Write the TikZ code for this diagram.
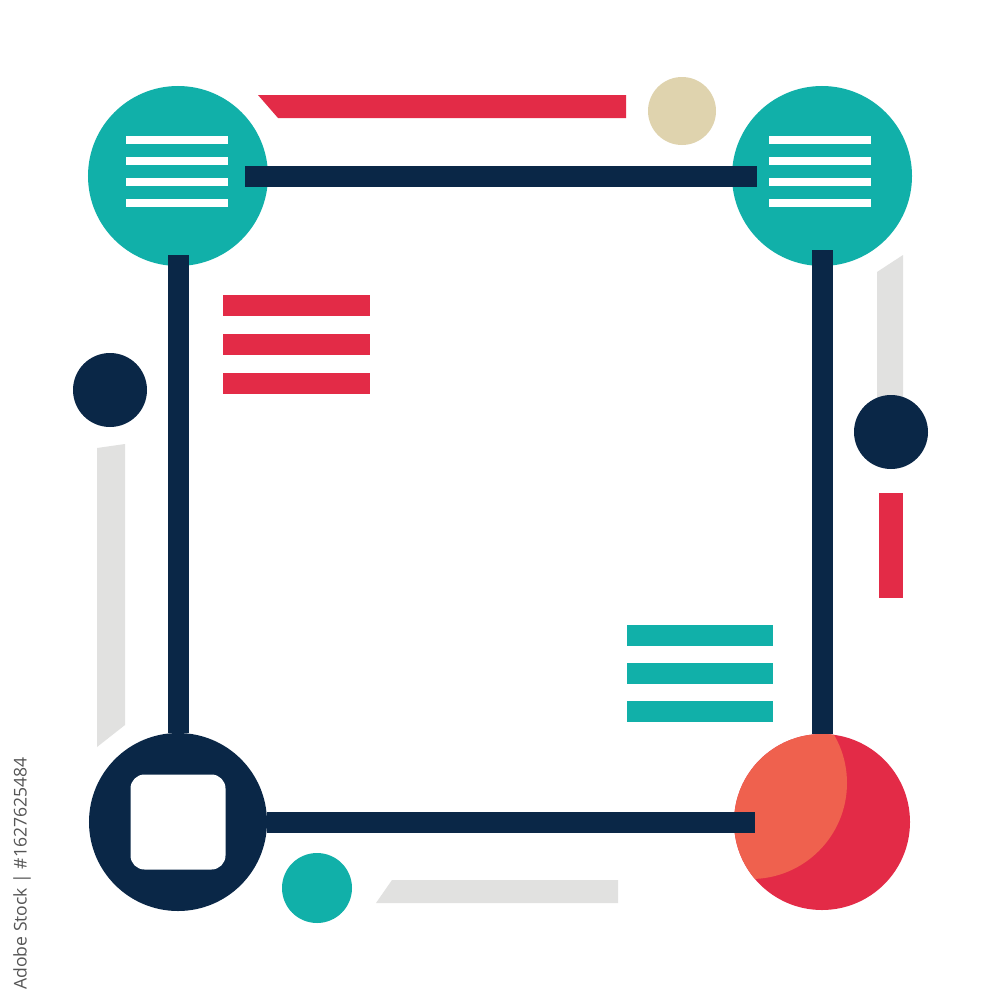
\documentclass[tikz,border=0pt]{standalone}
\usepackage{fontspec}
\newfontfamily\idfont{Open Sans}
\definecolor{cteal}{HTML}{11B0A9}
\definecolor{cnavy}{HTML}{0A2747}
\definecolor{cred}{HTML}{E32B47}
\definecolor{corange}{HTML}{EF614E}
\definecolor{cbeige}{HTML}{DFD3AE}
\definecolor{cgray}{HTML}{E1E1E0}
\definecolor{ctext}{HTML}{555555}

\begin{document}
\begin{tikzpicture}[x=0.2mm, y=-0.2mm]
\tikzstyle{hub}=[circle, minimum size=36mm, inner sep=0pt, fill=cteal]
\tikzstyle{dot}=[circle, minimum size=14.8mm, inner sep=0pt, fill=cnavy]
\tikzstyle{bar}=[cnavy, line width=4.2mm]
\tikzstyle{stripe}=[white, line width=1.6mm]
\useasboundingbox[fill=white] (0,0) rectangle (1000,1000);

% loose bits behind the frame
\fill[cred] (258,95) -- (626,95) -- (626,118) -- (278,118) -- cycle;
\fill[cgray] (376,903) -- (392,880) -- (618,880) -- (618,903) -- cycle;
\fill[cgray] (97,448) -- (125,444) -- (125,725) -- (97,747) -- cycle;
\fill[cgray] (877,272) -- (903,255) -- (903,432) -- (877,432) -- cycle;
\fill[cred] (879,493) rectangle (903,598);
\foreach \y in {295,334,373}
    \fill[cred] (223,\y) rectangle (370,\y+21);
\foreach \y in {625,663,701}
    \fill[cteal] (627,\y) rectangle (773,\y+21);

\node[dot, fill=cbeige, minimum size=13.6mm] (S) at (682,111) {};
\node[dot] (L) at (110,390) {};
\node[dot] (R) at (891,432) {};
\node[dot, fill=cteal, minimum size=14mm] (D) at (317,888) {};

% corner hubs
\node[hub] (TL) at (178,176) {};
\node[hub] (TR) at (822,176) {};
\node[hub, fill=cnavy, minimum size=35.6mm] (BL) at (178,822) {};
\node[rectangle, rounded corners=2.8mm, minimum size=19mm, inner sep=0pt, fill=white] (H) at (BL) {};
\node[hub, fill=cred, minimum size=35.2mm] (BR) at (822,822) {};
\begin{scope}
    \clip (BR.center) circle (88);
    \fill[corange] (751,783) circle (96);
\end{scope}

\foreach \x in {178,821}
    \foreach \y in {140,161,182,203}
        \draw[stripe] (\x-52,\y) -- (\x+50,\y);

% frame
\draw[bar, shorten <=15.8mm] (TL.center) -- (BL);
\draw[bar, shorten <=14.8mm] (TR.center) -- (BR);
\draw[bar, shorten <=13.4mm, shorten >=13mm] (TL.center) -- (TR.center);
\draw[bar, shorten >=13.4mm] (BL) -- (BR.center);

\node[rotate=90, anchor=west, inner sep=0pt, text=ctext,
      font=\idfont\fontsize{10}{12}\selectfont] (ID) at (22,990) {Adobe Stock | \#1627625484};
\end{tikzpicture}
\end{document}
